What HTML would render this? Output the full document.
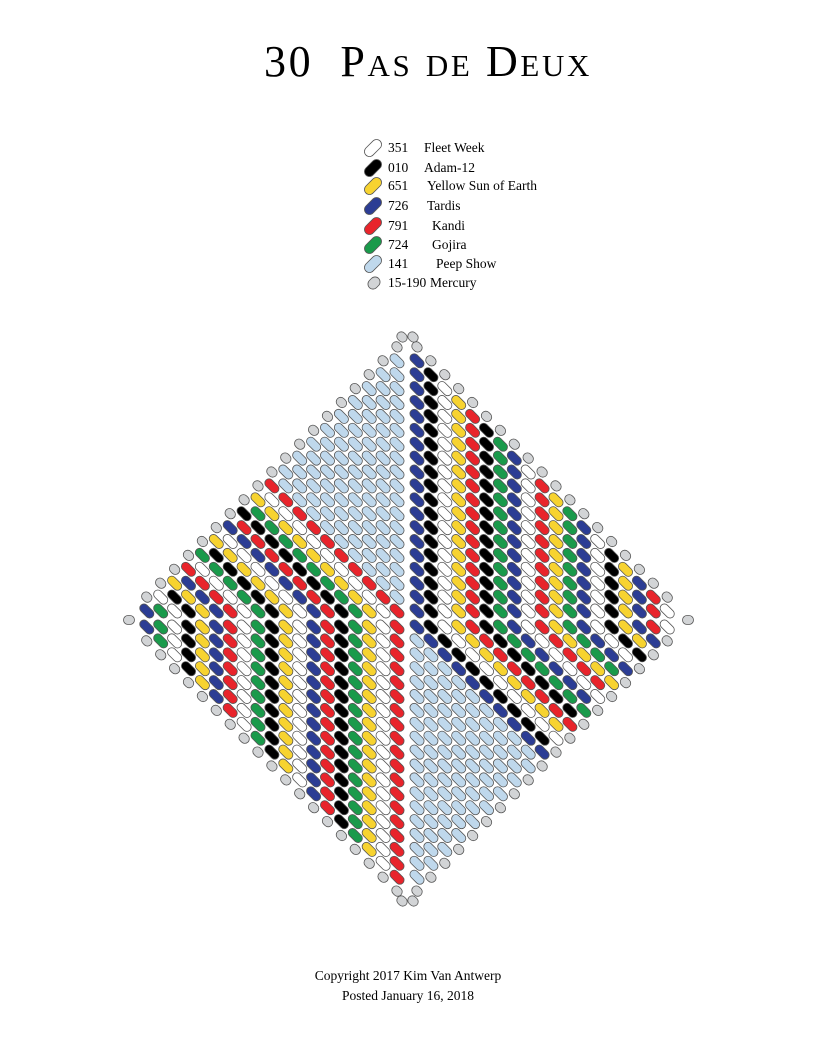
<!DOCTYPE html>
<html><head><meta charset="utf-8"><style>
html,body{margin:0;padding:0;background:#fff;}
body{width:816px;height:1056px;position:relative;overflow:hidden;font-family:"Liberation Serif",serif;color:#000;}
#title{position:absolute;left:0;width:856px;top:37px;line-height:50px;text-align:center;font-size:44px;font-variant:small-caps;letter-spacing:2.6px;}
.lg{position:absolute;font-size:13.5px;white-space:nowrap;}
.ft{position:absolute;left:0;width:816px;text-align:center;font-size:13.5px;}
svg{position:absolute;left:0;top:0;}
</style></head><body>
<svg id="s" width="816" height="1056"></svg>
<div id="title">30&nbsp;&nbsp;Pas de Deux</div>
<div class="lg" style="left:388px;top:140px">351</div><div class="lg" style="left:424px;top:140px">Fleet Week</div>
<div class="lg" style="left:388px;top:160px">010</div><div class="lg" style="left:424px;top:160px">Adam-12</div>
<div class="lg" style="left:388px;top:178px">651</div><div class="lg" style="left:427px;top:178px">Yellow Sun of Earth</div>
<div class="lg" style="left:388px;top:198px">726</div><div class="lg" style="left:427px;top:198px">Tardis</div>
<div class="lg" style="left:388px;top:218px">791</div><div class="lg" style="left:432px;top:218px">Kandi</div>
<div class="lg" style="left:388px;top:237px">724</div><div class="lg" style="left:432px;top:237px">Gojira</div>
<div class="lg" style="left:388px;top:256px">141</div><div class="lg" style="left:436px;top:256px">Peep Show</div>
<div class="lg" style="left:388px;top:275px">15-190</div><div class="lg" style="left:430px;top:275px">Mercury</div>
<div class="ft" style="top:968px">Copyright 2017 Kim Van Antwerp</div>
<div class="ft" style="top:988px">Posted January 16, 2018</div>
<script>
var C={W:'#ffffff',K:'#000000',Y:'#f7d330',B:'#2c3d94',R:'#e8242b',G:'#1a9a4b',L:'#bfd8ec',S:'#d2d4d6'};
var s=document.getElementById('s');var h='';
function bead(x,y,c,rot,len,wid){len=len||16.5;wid=wid||8.5;
h+='<rect x="'+(x-len/2)+'" y="'+(y-wid/2)+'" width="'+len+'" height="'+wid+'" rx="'+(wid/2)+'" fill="'+C[c]+'" stroke="#555" stroke-width="0.8" transform="rotate('+rot+' '+x+' '+y+')"/>';}
var R=['B','K','W','Y','R','K','G','B','W','R','Y','G','B','W','K','Y','B','R','W'];
var Lq=['R','W','Y','G','K','R','B','W','Y','K','G','W','R','B','Y','K','W','G','B'];
var P=13.9;
for(var k=0;k<19;k++){
 for(var j=0;j<=18-k;j++){
  var xr=417+P*k, xl=397-P*k, yt=611-P*j, yb=627+P*j;
  bead(xr,yt,R[k],45);
  bead(xl,yb,Lq[k],45);
  var sL=k-j; bead(xl,yt,sL>=0?Lq[sL]:'L',45);
  var sR=k-j; bead(xr,yb,sR>=0?R[sR]:'L',45);
 }
 var jc=19-k;
 bead(417+P*k,611-P*jc,'S',45,11,9);
 bead(397-P*k,611-P*jc,'S',45,11,9);
 bead(417+P*k,627+P*jc,'S',45,11,9);
 bead(397-P*k,627+P*jc,'S',45,11,9);
}
bead(402,337,'S',45,11,9);bead(413,337,'S',45,11,9);
bead(402,901,'S',45,11,9);bead(413,901,'S',45,11,9);
bead(129,620,'S',0,11,9);bead(688,620,'S',0,11,9);
var lgc=['W','K','Y','B','R','G','L'],ly=[148,168,186,206,226,245,264];
for(var i=0;i<7;i++)bead(373,ly[i],lgc[i],-45,20,10);
bead(374,283,'S',-45,13,10);
s.innerHTML=h;
</script>
</body></html>
